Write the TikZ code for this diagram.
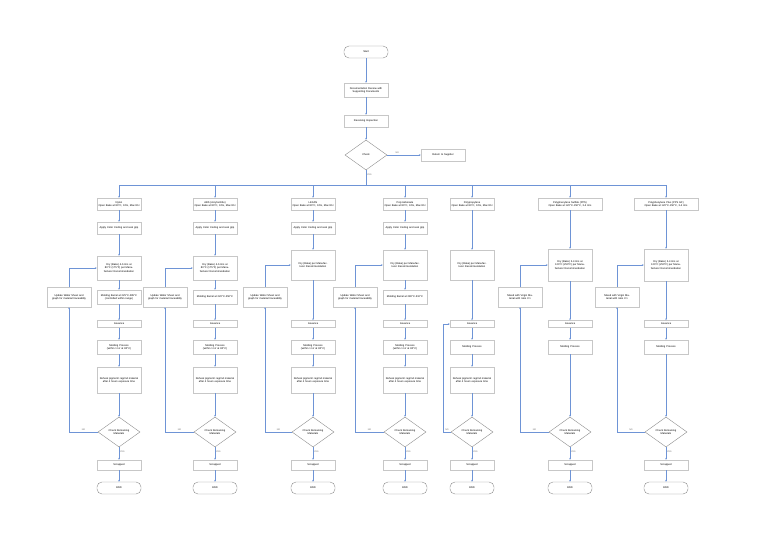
\documentclass[tikz,border=0pt]{standalone}
\usepackage{fontspec}
\setmainfont{Liberation Sans}
\usetikzlibrary{shapes.geometric,arrows.meta}
\definecolor{lnc}{RGB}{110,148,214}
\begin{document}
\begin{tikzpicture}[x=1pt,y=-1pt,
  every node/.style={font=\fontsize{2.6}{3.1}\selectfont,inner sep=0.8pt},
  box/.style={draw=black!22,line width=0.35pt,fill=white,minimum width=44,text width=41,align=center,minimum height=12},
  wbox/.style={box,minimum width=64,text width=60},
  term/.style={draw=black!45,line width=0.4pt,rounded corners=5,minimum width=44,minimum height=12,fill=white},
  dia/.style={draw=black!45,line width=0.4pt,diamond,aspect=1.4,minimum width=42,minimum height=30,inner sep=0,align=center,fill=white},
  lab/.style={font=\fontsize{2.2}{2.6}\selectfont,text=black!60},
  ar/.style={draw=lnc,line width=0.6pt,-{Stealth[length=2pt,width=1.6pt]}},
  ln/.style={draw=lnc,line width=0.6pt}]
\useasboundingbox (0,0) rectangle (768,543);
% top
\node[term] (st) at (366,52) {Start};
\node[box,minimum height=14] (doc) at (366,90) {Documentation Review with\\Supporting Documents};
\node[box] (rec) at (366,121) {Receiving Inspection};
\node[dia] (chk) at (366,155) {Check};
\node[box,minimum height=12] (ret) at (443,155) {Return to Supplier};
\coordinate (bus) at (366,185);
\draw[ar] (st) -- (doc);
\draw[ar] (doc) -- (rec);
\draw[ar] (rec) -- (chk);
\draw[ar] (chk) -- node[lab,above,pos=0.3]{NO} (ret);
\draw[ln] (chk) -- node[lab,right,pos=0.3]{YES} (bus);
\draw[ln] (119,185) -- (666,185);
% ---------- column macro pieces
\newcommand{\colhead}[3]{\coordinate (b#1) at (#2,185);
  \node[box] (t#1) at (#2,204) {#3};\draw[ar] (b#1) -- (t#1);}
\newcommand{\colend}[2]{%
  \node[dia] (k#1) at (#2,432) {Check Remaining\\Materials};
  \node[box,minimum height=10] (s#1) at (#2,465) {Scrapped};
  \node[term] (e#1) at (#2,488) {END};
  \draw[ar] (k#1) -- node[lab,right,pos=0.35]{YES} (s#1);
  \draw[ar] (s#1) -- (e#1);}
% column 1
\colhead{1}{119}{Nylon\\Open Bake at 80°C, 10\%, Max RH}
\node[box] (c1) at (119,228) {Apply Color Coding and seal grip};
\node[box,minimum height=24] (d1) at (119,268) {Dry (Bake) 4-6 Hrs at 80°C (175°F) per Manufacturer Recommendation};
\node[box,minimum height=14] (m1) at (119,297) {Molding Barrel at 225°C-285°C (controlled within range)};
\node[box,minimum height=7] (i1) at (119,324) {Issuance};
\node[box,minimum height=14] (p1) at (119,347) {Molding Process (within 1 Hr at 80°C)};
\node[box,minimum height=26] (r1) at (119,380) {Reheat pigment/ regrind material after 4 hours exposure time};
\node[box,minimum height=20] (u1) at (69,297) {Update Wafer Sheet and graph for material traceability};
\colend{1}{119}
\draw[ar] (t1)--(c1); \draw[ar] (c1)--(d1); \draw[ar] (d1)--(m1); \draw[ar] (m1)--(i1); \draw[ar] (i1)--(p1); \draw[ar] (p1)--(r1); \draw[ar] (r1)--(k1);
\draw[ar] (k1.west) -- node[lab,above,pos=0.5]{NO} (u1.center |- k1.west) -- (u1);
\draw[ar] (u1) |- (d1.west);
% column 2
\colhead{2}{215}{ABS (Acrylonitrile)\\Open Bake at 80°C, 10\%, Max RH}
\node[box] (c2) at (215,228) {Apply Color Coding and seal grip};
\node[box,minimum height=24] (d2) at (215,268) {Dry (Bake) 4-6 Hrs at 80°C (175°F) per Manufacturer Recommendation};
\node[box,minimum height=14] (m2) at (215,297) {Molding Barrel at 220°C-250°C};
\node[box,minimum height=7] (i2) at (215,324) {Issuance};
\node[box,minimum height=14] (p2) at (215,347) {Molding Process (within 1 Hr at 80°C)};
\node[box,minimum height=26] (r2) at (215,380) {Reheat pigment/ regrind material after 4 hours exposure time};
\node[box,minimum height=20] (u2) at (165,297) {Update Wafer Sheet and graph for material traceability};
\colend{2}{215}
\draw[ar] (t2)--(c2); \draw[ar] (c2)--(d2); \draw[ar] (d2)--(m2); \draw[ar] (m2)--(i2); \draw[ar] (i2)--(p2); \draw[ar] (p2)--(r2); \draw[ar] (r2)--(k2);
\draw[ar] (k2.west) -- node[lab,above,pos=0.5]{NO} (u2.center |- k2.west) -- (u2);
\draw[ar] (u2) |- (d2.west);
% column 3
\colhead{3}{313}{LEXAN\\Open Bake at 80°C, 10\%, Max RH}
\node[box] (c3) at (313,228) {Apply Color Coding and seal grip};
\node[box,minimum height=30] (d3) at (313,265) {Dry (Bake) per Manufacturer Recommendation};
\node[box,minimum height=7] (i3) at (313,324) {Issuance};
\node[box,minimum height=14] (p3) at (313,347) {Molding Process (within 1 Hr at 80°C)};
\node[box,minimum height=26] (r3) at (313,380) {Reheat pigment/ regrind material after 4 hours exposure time};
\node[box,minimum height=20] (u3) at (265,297) {Update Wafer Sheet and graph for material traceability};
\colend{3}{313}
\draw[ar] (t3)--(c3); \draw[ar] (c3)--(d3); \draw[ar] (d3)--(i3); \draw[ar] (i3)--(p3); \draw[ar] (p3)--(r3); \draw[ar] (r3)--(k3);
\draw[ar] (k3.west) -- node[lab,above,pos=0.5]{NO} (u3.center |- k3.west) -- (u3);
\draw[ar] (u3) |- (d3.west);
% column 4
\colhead{4}{405}{Polycarbonate\\Open Bake at 80°C, 10\%, Max RH}
\node[box] (c4) at (405,228) {Apply Color Coding and seal grip};
\node[box,minimum height=30] (d4) at (405,265) {Dry (Bake) per Manufacturer Recommendation};
\node[box,minimum height=14] (m4) at (405,297) {Molding Barrel at 280°C-310°C};
\node[box,minimum height=7] (i4) at (405,324) {Issuance};
\node[box,minimum height=14] (p4) at (405,347) {Molding Process (within 1 Hr at 80°C)};
\node[box,minimum height=26] (r4) at (405,380) {Reheat pigment/ regrind material after 4 hours exposure time};
\node[box,minimum height=20] (u4) at (355,297) {Update Wafer Sheet and graph for material traceability};
\colend{4}{405}
\draw[ar] (t4)--(c4); \draw[ar] (c4)--(d4); \draw[ar] (d4)--(m4); \draw[ar] (m4)--(i4); \draw[ar] (i4)--(p4); \draw[ar] (p4)--(r4); \draw[ar] (r4)--(k4);
\draw[ar] (k4.west) -- node[lab,above,pos=0.5]{NO} (u4.center |- k4.west) -- (u4);
\draw[ar] (u4) |- (d4.west);
% column 5
\colhead{5}{472}{Polypropylene\\Open Bake at 80°C, 10\%, Max RH}
\node[box,minimum height=30] (d5) at (472,265) {Dry (Bake) per Manufacturer Recommendation};
\node[box,minimum height=7] (i5) at (472,324) {Issuance};
\node[box,minimum height=14] (p5) at (472,347) {Molding Process};
\node[box,minimum height=26] (r5) at (472,380) {Reheat pigment/ regrind material after 4 hours exposure time};
\colend{5}{472}
\draw[ar] (t5)--(d5); \draw[ar] (d5)--(i5); \draw[ar] (i5)--(p5); \draw[ar] (p5)--(r5); \draw[ar] (r5)--(k5);
\coordinate (l5) at (443,432);
\draw[ln] (k5.west) -- node[lab,above,pos=0.5]{NO} (l5);
\draw[ar] (l5) |- (i5.west);
% column 6
\colhead{6}{570}{}
\node[wbox] (t6x) at (570,204) {Polyphenylene Sulfide (PPS)\\Open Bake at 120°C-150°C, 3-4 Hrs};
\node[box,minimum height=32] (d6) at (570,265) {Dry (Bake) 3-4 Hrs at 120°C (250°F) per Manufacturer Recommendation};
\node[box,minimum height=7] (i6) at (570,324) {Issuance};
\node[box,minimum height=14] (p6) at (570,347) {Molding Process};
\node[box,minimum height=20] (u6) at (520,297) {Mixed with Virgin Material with ratio 3:1};
\colend{6}{570}
\draw[ar] (t6x)--(d6); \draw[ar] (d6)--(i6); \draw[ar] (i6)--(p6); \draw[ar] (p6)--(k6);
\draw[ar] (k6.west) -- node[lab,above,pos=0.5]{NO} (u6.center |- k6.west) -- (u6);
\draw[ar] (u6) |- (d6.west);
% column 7
\colhead{7}{666}{}
\node[wbox] (t7x) at (666,204) {Polyphenylene Plus (PPS GF)\\Open Bake at 120°C-150°C, 3-4 Hrs};
\node[box,minimum height=32] (d7) at (666,265) {Dry (Bake) 3-4 Hrs at 120°C (250°F) per Manufacturer Recommendation};
\node[box,minimum height=7] (i7) at (666,324) {Issuance};
\node[box,minimum height=14] (p7) at (666,347) {Molding Process};
\node[box,minimum height=20] (u7) at (617,297) {Mixed with Virgin Material with ratio 3:1};
\colend{7}{666}
\draw[ar] (t7x)--(d7); \draw[ar] (d7)--(i7); \draw[ar] (i7)--(p7); \draw[ar] (p7)--(k7);
\draw[ar] (k7.west) -- node[lab,above,pos=0.5]{NO} (u7.center |- k7.west) -- (u7);
\draw[ar] (u7) |- (d7.west);
\end{tikzpicture}
\end{document}
